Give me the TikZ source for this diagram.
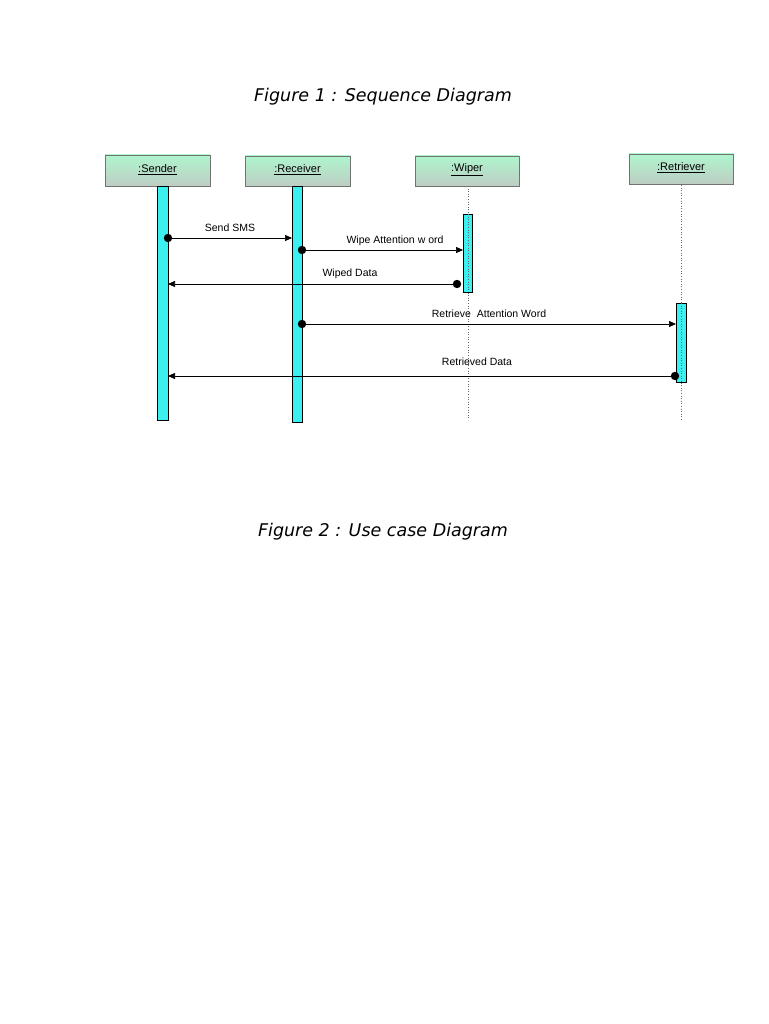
\documentclass[tikz,border=0pt]{standalone}
\usepackage{fontspec}
\setmainfont{Liberation Sans}
\newfontfamily\titlefont{DejaVu Sans}
\usetikzlibrary{arrows.meta}
\definecolor{bar}{RGB}{60,240,240}
\definecolor{mint}{RGB}{175,245,205}
\definecolor{boxgrey}{RGB}{190,205,195}
\begin{document}
\begin{tikzpicture}[x=1pt,y=-1pt,
  obj/.style={draw=black!55,top color=mint,bottom color=boxgrey,inner sep=0pt},
  otext/.style={font=\fontsize{11}{13}\selectfont},
  act/.style={draw=black,fill=bar,line width=0.6pt},
  life/.style={draw=black!60,dotted,line width=0.6pt},
  msg/.style={draw=black,line width=0.6pt,-{Triangle[length=7pt,width=6pt]}},
  lab/.style={font=\fontsize{10.5}{12}\selectfont,inner sep=1pt},
  ttl/.style={font=\titlefont\itshape\fontsize{17.5}{20}\selectfont}]
\useasboundingbox (0,0) rectangle (768,1024);
\fill[white] (0,0) rectangle (768,1024);
\node[ttl] (t1) at (383,97) {Figure 1 : Sequence Diagram};
\node[ttl] (t2) at (383,532) {Figure 2 : Use case Diagram};
% objects
\draw[obj] (105,155) rectangle (210,186);
\node[otext] (s) at (157.5,170) {\underline{:Sender}};
\draw[obj] (245,156) rectangle (350,186);
\node[otext] (r) at (297.5,170) {\underline{:Receiver}};
\draw[obj] (415,156) rectangle (519,186);
\node[otext] (w) at (467,170) {\underline{:Wiper}};
\draw[obj] (629,154) rectangle (733,184);
\node[otext] (rt) at (681,168) {\underline{:Retriever}};
% lifelines
\draw[life] (468,186) -- (468,420);
\draw[life] (681,185) -- (681,420);
\draw[act] (157,186) rectangle (168,420);
\draw[act] (292,186) rectangle (302,422);
\draw[act] (463,214) rectangle (472,292);
\draw[act] (676,303) rectangle (686,382);
\draw[life] (468,214) -- (468,292);
\draw[life] (681,303) -- (681,382);
% messages
\coordinate (a1) at (168,238); \coordinate (b1) at (292,238);
\coordinate (a2) at (302,250); \coordinate (b2) at (463,250);
\coordinate (a3) at (457,284); \coordinate (b3) at (168,284);
\coordinate (a4) at (302,324); \coordinate (b4) at (676,324);
\coordinate (a5) at (675,376); \coordinate (b5) at (168,376);
\foreach \p in {a1,a2,a3,a4,a5} \fill (\p) circle (4.2pt);
\draw[msg] (a1) -- (b1);
\draw[msg] (a2) -- (b2);
\draw[msg] (a3) -- (b3);
\draw[msg] (a4) -- (b4);
\draw[msg] (a5) -- (b5);
\node[lab] (l1) at (230,228) {Send SMS};
\node[lab] (l2) at (395,241) {Wipe Attention w ord};
\node[lab] (l3) at (350,274) {Wiped Data};
\node[lab] (l4) at (489,314) {Retrieve\ \ Attention Word};
\node[lab] (l5) at (477,362) {Retrieved Data};
\end{tikzpicture}
\end{document}
